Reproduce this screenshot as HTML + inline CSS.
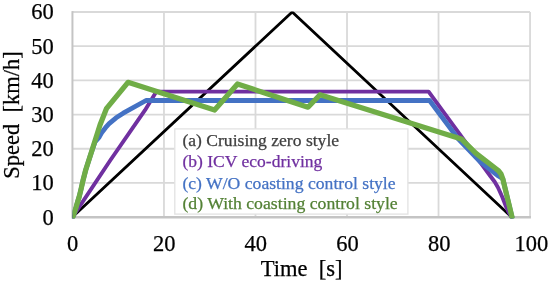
<!DOCTYPE html>
<html><head><meta charset="utf-8"><style>
html,body{margin:0;padding:0;background:#fff;width:550px;height:284px;overflow:hidden}
svg{display:block}
text{font-family:"Liberation Serif","Times New Roman",serif}
</style></head><body>
<svg width="550" height="284" viewBox="0 0 550 284">
<rect width="550" height="284" fill="#fff"/>
<g stroke="#d9d9d9" stroke-width="1.8" fill="none">
<path d="M72.45 12H530.05M72.45 46.2H530.05M72.45 80.4H530.05M72.45 114.56H530.05M72.45 148.74H530.05M72.45 182.92H530.05"/>
<path d="M163.97 12V217.1M255.49 12V217.1M347.01 12V217.1M438.53 12V217.1M530.05 12V217.1"/>
</g>
<g stroke="#c4c4c4" fill="none">
<path stroke-width="2" d="M72.45 11.1V216.2"/>
<path stroke-width="2.5" d="M71.45 217.35H530.95"/>
</g>
<clipPath id="pc"><rect x="72.4" y="11.4" width="458.6" height="207.2"/></clipPath>
<g fill="none" stroke-linejoin="round" stroke-linecap="round" clip-path="url(#pc)">
<polyline stroke="#000" stroke-width="2.8" points="72.45,217.1 292.2,12 511.6,217.1"/>
<polyline stroke="#7030a0" stroke-width="3.9" points="72.45,217.1 110.5,160 145,110.2 156.4,91.6 428.6,91.6 490.3,176 494.8,182 498,187.5 502.5,197.5 506,206.5 508.8,212.5 511.5,217.1"/>
<polyline stroke="#4472c4" stroke-width="4.8" points="72.8,217.1 74.4,212.5 76,207.5 77.6,202 79.4,196 81.2,188.5 83,180.5 85.7,170 90.5,155 95,142 99.2,137.2 102,132.2 105.5,127.7 109.1,123.7 116.1,117.8 123.2,113.2 146,100.5 429.6,100.5 458,138.6 480,161.5 498.5,176 502.8,178.8 505.5,190 512,217"/>
<polyline stroke="#70ad47" stroke-width="5.25" points="72.8,217.1 74.4,212.5 76,207.5 77.6,202 79.4,196 81.2,188.5 83,180.5 85.7,170 90.5,155 100,125 106.4,108.7 128,82.3 214.6,110 237.5,84 308,107.2 320,94.7 461.3,138.9 476,153.3 495,168 498.6,170.9 501.1,174.2 502.8,178.8 505.5,190 512,217"/>
</g>
<rect x="174.8" y="128.9" width="233.1" height="85.2" fill="#fff" stroke="#e2e2e2" stroke-width="1.3"/>
<g font-size="16.9" stroke-width="0.25">
<text x="182.4" y="146" fill="#404040" stroke="#404040" textLength="156.7" lengthAdjust="spacingAndGlyphs">(a) Cruising zero style</text>
<text x="182.4" y="167.1" fill="#7030a0" stroke="#7030a0" textLength="140" lengthAdjust="spacingAndGlyphs">(b) ICV eco-driving</text>
<text x="182.4" y="188.8" fill="#4472c4" stroke="#4472c4" textLength="213.2" lengthAdjust="spacingAndGlyphs">(c) W/O coasting control style</text>
<text x="182.4" y="209.3" fill="#538135" stroke="#538135" textLength="215.3" lengthAdjust="spacingAndGlyphs">(d) With coasting control style</text>
</g>
<g font-size="23.2" fill="#000" stroke="#000" stroke-width="0.25" text-anchor="end">
<text x="53.7" y="19.4" textLength="22.5" lengthAdjust="spacingAndGlyphs">60</text>
<text x="53.7" y="53.6" textLength="22.5" lengthAdjust="spacingAndGlyphs">50</text>
<text x="53.7" y="87.8" textLength="22.5" lengthAdjust="spacingAndGlyphs">40</text>
<text x="53.7" y="122.0" textLength="22.5" lengthAdjust="spacingAndGlyphs">30</text>
<text x="53.7" y="156.1" textLength="22.5" lengthAdjust="spacingAndGlyphs">20</text>
<text x="53.7" y="190.3" textLength="22.5" lengthAdjust="spacingAndGlyphs">10</text>
<text x="53.7" y="224.5" textLength="11.25" lengthAdjust="spacingAndGlyphs">0</text>
</g>
<g font-size="23.2" fill="#000" stroke="#000" stroke-width="0.25" text-anchor="middle">
<text x="72.55" y="251" textLength="11.25" lengthAdjust="spacingAndGlyphs">0</text>
<text x="164.17" y="251" textLength="22.5" lengthAdjust="spacingAndGlyphs">20</text>
<text x="255.69" y="251" textLength="22.5" lengthAdjust="spacingAndGlyphs">40</text>
<text x="347.41" y="251" textLength="22.5" lengthAdjust="spacingAndGlyphs">60</text>
<text x="439.23" y="251" textLength="22.5" lengthAdjust="spacingAndGlyphs">80</text>
<text x="531.35" y="251" textLength="33.75" lengthAdjust="spacingAndGlyphs">100</text>
</g>
<g font-size="22.5" fill="#000" stroke="#000" stroke-width="0.25" text-anchor="middle">
<text x="301.6" y="275.9" xml:space="preserve" style="white-space:pre">Time  [s]</text>
<text transform="translate(19.3 115.1) rotate(-90)" xml:space="preserve" style="white-space:pre">Speed  [km/h]</text>
</g>
</svg>
</body></html>
